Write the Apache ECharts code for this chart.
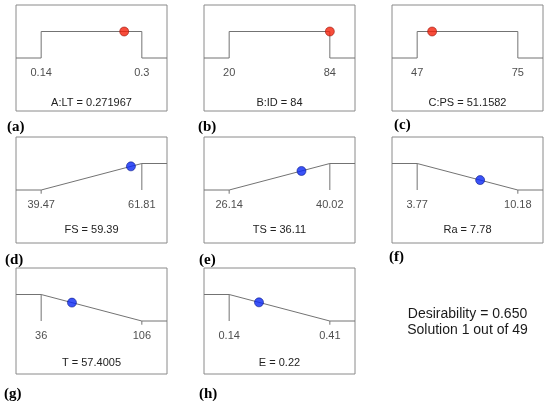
<!DOCTYPE html>
<html><head><meta charset="utf-8">
<script src="https://cdn.jsdelivr.net/npm/echarts@6/dist/echarts.min.js"></script>
<style>html,body{margin:0;padding:0;background:#fff}#c{width:550px;height:401px}</style>
</head><body><div id="c"></div>
<script>
// ---- data ----
const factorNames = ['A:LT', 'B:ID', 'C:PS', 'FS', 'TS', 'Ra', 'T', 'E'];
const goals = ['range', 'range', 'range', 'max', 'max', 'min', 'min', 'min'];
const lows = [0.14, 20, 47, 39.47, 26.14, 3.77, 36, 0.14];
const highs = [0.3, 84, 75, 61.81, 40.02, 10.18, 106, 0.41];
const lowLabels = ['0.14', '20', '47', '39.47', '26.14', '3.77', '36', '0.14'];
const highLabels = ['0.3', '84', '75', '61.81', '40.02', '10.18', '106', '0.41'];
const solutionValues = [0.271967, 84, 51.1582, 59.39, 36.11, 7.78, 57.4005, 0.22];
const solutionLabels = ['0.271967', '84', '51.1582', '59.39', '36.11', '7.78', '57.4005', '0.22'];
const desirabilities = [1, 1, 1, 0.892, 0.718, 0.374, 0.694, 0.704];
const panelLetters = ['(a)', '(b)', '(c)', '(d)', '(e)', '(f)', '(g)', '(h)'];
const overallDesirability = '0.650';
const solutionNumber = 1;
const solutionCount = 49;

// ---- layout ----
const colX = [16, 204, 392];
const rowY = [5, 137, 268];
const W = 151, H = 106;
const titleOffset = [98, 92.5, 95];
const letterPos = [[7, 127], [198, 127], [394, 125], [5, 260], [199, 260], [389, 257], [4, 394], [199, 394]];
const LABEL_Y = -0.56;
const TICK = 0.14;
const FONT = '"Liberation Sans", Arial, sans-serif';
const LINE = '#737373';

const grids = [], xAxes = [], yAxes = [], series = [], graphics = [];

factorNames.forEach((name, i) => {
  const col = i % 3, row = Math.floor(i / 3);
  const left = colX[col], top = rowY[row];
  grids.push({left: left, top: top, width: W, height: H, show: true,
    borderColor: '#8a8a8a', borderWidth: 1, backgroundColor: 'transparent'});
  const lo = lows[i], hi = highs[i], span = hi - lo;
  const xmin = lo - 0.25 * span, xmax = hi + 0.25 * span;
  xAxes.push({type: 'value', gridIndex: i, min: xmin, max: xmax, show: false});
  yAxes.push({type: 'value', gridIndex: i, min: -2, max: 2, show: false});

  let fn, extra = [];
  if (goals[i] === 'range') {
    fn = [[xmin, 0], [lo, 0], [lo, 1], [hi, 1], [hi, 0], [xmax, 0]];
  } else if (goals[i] === 'max') {
    fn = [[xmin, 0], [lo, 0], [hi, 1], [xmax, 1]];
    extra = [[[hi, 1], [hi, 0]], [[lo, 0], [lo, -TICK]]];
  } else {
    fn = [[xmin, 1], [lo, 1], [hi, 0], [xmax, 0]];
    extra = [[[lo, 1], [lo, 0]], [[hi, 0], [hi, -TICK]]];
  }
  const lineBase = {type: 'line', xAxisIndex: i, yAxisIndex: i, symbol: 'none',
    lineStyle: {color: LINE, width: 1}, silent: true, animation: false};
  series.push(Object.assign({}, lineBase, {data: fn}));
  extra.forEach(seg => series.push(Object.assign({}, lineBase, {data: seg})));

  // value labels
  series.push({type: 'scatter', xAxisIndex: i, yAxisIndex: i, symbolSize: 1,
    itemStyle: {color: 'rgba(0,0,0,0)'}, animation: false, silent: true,
    data: [{value: [lo, LABEL_Y], name: lowLabels[i]}, {value: [hi, LABEL_Y], name: highLabels[i]}],
    label: {show: true, position: 'inside', formatter: '{b}', color: '#222', fontSize: 11, fontFamily: FONT}});

  // solution dot
  const red = i < 3;
  series.push({type: 'scatter', xAxisIndex: i, yAxisIndex: i, symbolSize: 9, animation: false,
    data: [[solutionValues[i], desirabilities[i]]],
    itemStyle: {color: red ? '#f5200a' : '#0a28f5', borderColor: red ? '#901008' : '#001080', borderWidth: 0.7},
    z: 5});

  // bottom label
  graphics.push({type: 'text', x: left + W / 2, y: top + titleOffset[row],
    style: {text: name + ' = ' + solutionLabels[i], font: '11px ' + FONT, fill: '#222',
      textAlign: 'center', align: 'center', textVerticalAlign: 'middle', verticalAlign: 'middle'}});

  // panel letter
  graphics.push({type: 'text', x: letterPos[i][0], y: letterPos[i][1],
    style: {text: panelLetters[i], font: 'bold 15px "Liberation Serif", "Times New Roman", serif', fill: '#000',
      textAlign: 'left', align: 'left', textVerticalAlign: 'middle', verticalAlign: 'middle'}});
});

graphics.push({type: 'text', x: colX[2] + W / 2, y: 314,
  style: {text: 'Desirability = ' + overallDesirability, font: '14px ' + FONT, fill: '#1a1a1a',
    textAlign: 'center', align: 'center', textVerticalAlign: 'middle', verticalAlign: 'middle'}});
graphics.push({type: 'text', x: colX[2] + W / 2, y: 330,
  style: {text: 'Solution ' + solutionNumber + ' out of ' + solutionCount, font: '14px ' + FONT, fill: '#1a1a1a',
    textAlign: 'center', align: 'center', textVerticalAlign: 'middle', verticalAlign: 'middle'}});

const chart = echarts.init(document.getElementById('c'), null, {renderer: 'canvas'});
chart.setOption({
  animation: false,
  backgroundColor: '#ffffff',
  grid: grids, xAxis: xAxes, yAxis: yAxes, series: series, graphic: graphics
});
</script></body></html>
